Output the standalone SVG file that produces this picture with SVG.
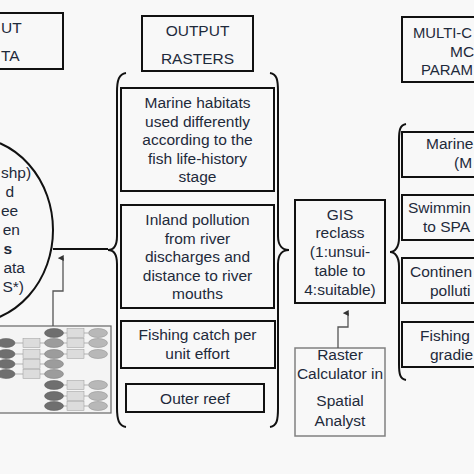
<svg xmlns="http://www.w3.org/2000/svg" width="474" height="474" viewBox="0 0 474 474">
<defs>
<style>
.t{font-family:"Liberation Sans",Arial,sans-serif;font-size:15.5px;fill:#1e2a3b;text-anchor:middle}
.s{text-anchor:start}
.e{text-anchor:end}
.box{fill:none;stroke:#111;stroke-width:2}
.brace{fill:none;stroke:#111;stroke-width:2}
.conn{fill:none;stroke:#555;stroke-width:1.3}
.me1{fill:#6f6f6f;stroke:#555;stroke-width:0.5}
.me2{fill:#9c9c9c;stroke:#777;stroke-width:0.5}
.me3{fill:#b8b8b8;stroke:#888;stroke-width:0.5}
.mb{fill:#dcdcdc;stroke:#999;stroke-width:0.5}
.ml{stroke:#888;stroke-width:0.6}
</style>
<marker id="ah" viewBox="0 0 8 8" refX="4" refY="7" markerWidth="6" markerHeight="6" orient="auto-start-reverse" markerUnits="userSpaceOnUse">
<path d="M0,8 L4,0 L8,8 Z" fill="#333"/>
</marker>
</defs>
<rect x="0" y="0" width="474" height="474" fill="#f8f8f8"/>

<g id="input-data">
<rect class="box" x="-5" y="13" width="68" height="56"/>
<text class="t s" x="1" y="33">UT</text>
<text class="t s" x="1" y="61">TA</text>
</g>

<g id="input-ellipse">
<ellipse cx="-30" cy="230" rx="83" ry="93" class="box"/>
<text class="t s" x="1" y="177.5">shp)</text>
<text class="t e" x="14" y="196.5">d</text>
<text class="t s" x="1" y="215.5">ee</text>
<text class="t e" x="20" y="234.5">en</text>
<text class="t e" x="12" y="253.5" font-weight="bold">s</text>
<text class="t e" x="25" y="272.5">ata</text>
<text class="t e" x="24" y="291.5">S*)</text>
</g>

<g id="model-image">
<rect x="-2" y="326" width="113" height="87" fill="#f4f4f4" stroke="#666" stroke-width="1.2"/>
<g>
<line class="ml" x1="15" y1="343" x2="23" y2="343"/><line class="ml" x1="15" y1="354" x2="23" y2="354"/>
<line class="ml" x1="15" y1="364" x2="23" y2="364"/><line class="ml" x1="15" y1="374" x2="23" y2="374"/>
<line class="ml" x1="40" y1="343" x2="45" y2="343"/><line class="ml" x1="40" y1="354" x2="45" y2="354"/>
<line class="ml" x1="40" y1="364" x2="45" y2="364"/><line class="ml" x1="40" y1="374" x2="45" y2="374"/>
<line class="ml" x1="63" y1="333" x2="67" y2="333"/><line class="ml" x1="63" y1="343" x2="67" y2="343"/>
<line class="ml" x1="63" y1="354" x2="67" y2="354"/><line class="ml" x1="63" y1="385" x2="67" y2="385"/>
<line class="ml" x1="63" y1="396" x2="67" y2="396"/><line class="ml" x1="63" y1="406" x2="67" y2="406"/>
<line class="ml" x1="84" y1="333" x2="88" y2="333"/><line class="ml" x1="84" y1="343" x2="88" y2="343"/>
<line class="ml" x1="84" y1="354" x2="88" y2="354"/><line class="ml" x1="84" y1="385" x2="88" y2="385"/>
<line class="ml" x1="84" y1="396" x2="88" y2="396"/><line class="ml" x1="84" y1="406" x2="88" y2="406"/>
</g>
<ellipse class="me1" cx="6" cy="343" rx="9" ry="4.5"/>
<ellipse class="me1" cx="6" cy="354" rx="9" ry="4.5"/>
<ellipse class="me1" cx="6" cy="364" rx="9" ry="4.5"/>
<ellipse class="me1" cx="6" cy="374" rx="9" ry="4.5"/>
<rect class="mb" x="23" y="338.5" width="17" height="9"/>
<rect class="mb" x="23" y="349.5" width="17" height="9"/>
<rect class="mb" x="23" y="359.5" width="17" height="9"/>
<rect class="mb" x="23" y="369.5" width="17" height="9"/>
<ellipse class="me1" cx="54" cy="333" rx="9.5" ry="4.5"/>
<ellipse class="me2" cx="54" cy="343" rx="9.5" ry="4.5"/>
<ellipse class="me2" cx="54" cy="354" rx="9.5" ry="4.5"/>
<ellipse class="me2" cx="54" cy="364" rx="9.5" ry="4.5"/>
<ellipse class="me2" cx="54" cy="374" rx="9.5" ry="4.5"/>
<ellipse class="me1" cx="54" cy="385" rx="9.5" ry="4.5"/>
<ellipse class="me1" cx="54" cy="396" rx="9.5" ry="4.5"/>
<ellipse class="me1" cx="54" cy="406" rx="9.5" ry="4.5"/>
<rect class="mb" x="67" y="328.5" width="17" height="9"/>
<rect class="mb" x="67" y="338.5" width="17" height="9"/>
<rect class="mb" x="67" y="349.5" width="17" height="9"/>
<rect class="mb" x="67" y="380.5" width="17" height="9"/>
<rect class="mb" x="67" y="391.5" width="17" height="9"/>
<rect class="mb" x="67" y="401.5" width="17" height="9"/>
<ellipse class="me3" cx="98" cy="333" rx="9.5" ry="4.5"/>
<ellipse class="me3" cx="98" cy="343" rx="9.5" ry="4.5"/>
<ellipse class="me3" cx="98" cy="354" rx="9.5" ry="4.5"/>
<ellipse class="me3" cx="98" cy="385" rx="9.5" ry="4.5"/>
<ellipse class="me3" cx="98" cy="396" rx="9.5" ry="4.5"/>
<ellipse class="me3" cx="98" cy="406" rx="9.5" ry="4.5"/>
</g>

<g id="output-rasters">
<rect class="box" x="142" y="16" width="111" height="55"/>
<text class="t" x="197.5" y="35.5">OUTPUT</text>
<text class="t" x="197.5" y="63.5">RASTERS</text>
</g>

<g id="marine-habitats">
<rect class="box" x="121" y="88" width="153" height="103"/>
<text class="t" x="197.5" y="108.3">Marine habitats</text>
<text class="t" x="197.5" y="126.8">used differently</text>
<text class="t" x="197.5" y="145.3">according to the</text>
<text class="t" x="197.5" y="163.8">fish life-history</text>
<text class="t" x="197.5" y="182.3">stage</text>
</g>

<g id="inland-pollution">
<rect class="box" x="121" y="205" width="153" height="103"/>
<text class="t" x="197.5" y="225">Inland pollution</text>
<text class="t" x="197.5" y="243.5">from river</text>
<text class="t" x="197.5" y="262">discharges and</text>
<text class="t" x="197.5" y="280.5">distance to river</text>
<text class="t" x="197.5" y="299">mouths</text>
</g>

<g id="fishing-catch">
<rect class="box" x="121" y="321" width="154" height="47"/>
<text class="t" x="197.5" y="340">Fishing catch per</text>
<text class="t" x="197.5" y="359">unit effort</text>
</g>

<g id="outer-reef">
<rect class="box" x="126" y="384" width="138" height="28"/>
<text class="t" x="195" y="404">Outer reef</text>
</g>

<g id="gis-reclass">
<rect class="box" x="295" y="200" width="90" height="103" stroke-width="2.5"/>
<text class="t" x="340" y="219.5">GIS</text>
<text class="t" x="340" y="238.3">reclass</text>
<text class="t" x="340" y="257.1">(1:unsui-</text>
<text class="t" x="340" y="275.9">table to</text>
<text class="t" x="340" y="294.7">4:suitable)</text>
</g>

<g id="raster-calculator">
<rect x="295" y="348" width="90" height="88" fill="none" stroke="#808080" stroke-width="1.5"/>
<text class="t" x="340" y="360">Raster</text>
<text class="t" x="340" y="379">Calculator in</text>
<text class="t" x="340" y="406">Spatial</text>
<text class="t" x="340" y="426">Analyst</text>
</g>

<g id="mcda-parameters">
<rect class="box" x="402" y="17" width="80" height="65"/>
<text class="t s" x="413" y="37.5" textLength="59" lengthAdjust="spacingAndGlyphs">MULTI-C</text>
<text class="t s" x="450" y="56.5">MC</text>
<text class="t s" x="421" y="74.5" textLength="52" lengthAdjust="spacingAndGlyphs">PARAM</text>
</g>

<g id="param-marine">
<rect class="box" x="402" y="132" width="80" height="45"/>
<text class="t s" x="426" y="149">Marine</text>
<text class="t s" x="454" y="168">(M</text>
</g>

<g id="param-swimming">
<rect class="box" x="402" y="195" width="80" height="45"/>
<text class="t s" x="408" y="213">Swimmin</text>
<text class="t s" x="423" y="232">to SPA</text>
</g>

<g id="param-continental">
<rect class="box" x="402" y="258" width="80" height="45"/>
<text class="t s" x="410" y="276.5">Continen</text>
<text class="t s" x="430" y="295.5">polluti</text>
</g>

<g id="param-fishing">
<rect class="box" x="402" y="322" width="80" height="45"/>
<text class="t s" x="420" y="340.5">Fishing</text>
<text class="t s" x="430" y="359.5">gradie</text>
</g>

<g id="connectors">
<path class="brace" d="M126,73 C119,74 117,80 117,92 L117,236 C117,246 113,250 108,250 C113,250 117,254 117,264 L117,408 C117,420 119,426 126,427"/>
<path class="brace" d="M270,73 C277,74 278,80 278,92 L278,236 C278,246 283,250 289,250 C283,250 278,254 278,264 L278,408 C278,420 277,426 270,427"/>
<path class="brace" d="M406,124 C400,125 399,130 399,140 L399,238 C399,247 395,252 390,252 C395,252 399,257 399,266 L399,364 C399,374 400,379 406,380"/>
<line x1="53" y1="249" x2="108" y2="249" stroke="#111" stroke-width="2"/>
<path class="conn" d="M53,326 L53,291 L63,291 L63,258" marker-end="url(#ah)"/>
<path class="conn" d="M338,348 L338,327 L348,327 L348,313" marker-end="url(#ah)"/>
</g>
</svg>
